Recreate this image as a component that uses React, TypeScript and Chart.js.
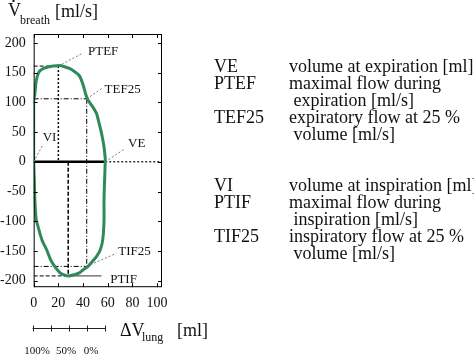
import React, { useEffect, useRef } from "react";
import { Chart, registerables } from "chart.js";

Chart.register(...registerables);

// ---- data ----
const xTicks = [0, 20, 40, 60, 80, 100];
const yTicks = [-200, -150, -100, -50, 0, 50, 100, 150, 200];

const loopX = [0, 0, 0, 1, 2, 4, 7, 11, 16, 21, 25, 29, 33, 37, 40, 42, 44, 48, 51, 53, 55, 57, 58, 58,
  57.5, 57, 57, 56, 54, 51, 47, 44, 40, 37, 33, 28, 24, 21, 17, 14, 10.5, 7, 5, 3, 2, 1, 0.5, 0];
const loopY = [0, 50, 100, 115, 135, 150, 156, 159, 161, 162, 160, 157, 152, 145, 130, 115, 104, 92, 81, 65, 48, 25, 5, 0,
  -30, -64, -100, -131, -148, -159, -169, -176, -182, -187, -190, -192, -190, -186, -176, -166, -148, -133, -120, -105, -97, -65, -30, 0];

const VE = 58;
const VI = 0;
const PTEF = [20, 161];
const TEF25 = [43, 106];
const TIF25 = [43, -176];
const PTIF = [28, -192];

const markerLabels = ["PTEF", "TEF25", "VI", "VE", "TIF25", "PTIF"];

const legendAbbr = ["VE", "PTEF", "TEF25", "VI", "PTIF", "TIF25"];
const legendDesc = [
  ["volume at expiration [ml]"],
  ["maximal flow during", " expiration [ml/s]"],
  ["expiratory flow at 25 %", " volume [ml/s]"],
  ["volume at inspiration [ml]"],
  ["maximal flow during", " inspiration [ml/s]"],
  ["inspiratory flow at 25 %", " volume [ml/s]"],
];

const percentLabels = ["100%", "50%", "0%"];

const SERIF = '"Liberation Serif", "Times New Roman", serif';
const GREEN = "#2e8b57";

const pts = (xs: number[], ys: number[]) => xs.map((x, i) => ({ x, y: ys[i] }));
const seg = (x1: number, y1: number, x2: number, y2: number) => [{ x: x1, y: y1 }, { x: x2, y: y2 }];

const overlay = {
  id: "overlay",
  afterDatasetsDraw(chart: any) {
    const { ctx, chartArea: a, scales } = chart;
    const xs = scales.x, ys = scales.y;
    const px = (v: number) => xs.getPixelForValue(v);
    const py = (v: number) => ys.getPixelForValue(v);
    ctx.save();
    // frame
    ctx.strokeStyle = "#000";
    ctx.lineWidth = 1;
    ctx.setLineDash([]);
    ctx.strokeRect(a.left + 0.5, a.top + 0.5, a.right - a.left - 1, a.bottom - a.top - 1);
    // inward ticks
    ctx.beginPath();
    xTicks.forEach((v) => {
      const x = Math.round(px(v)) + 0.5;
      ctx.moveTo(x, a.bottom); ctx.lineTo(x, a.bottom - 4);
      ctx.moveTo(x, a.top); ctx.lineTo(x, a.top + 4);
    });
    yTicks.forEach((v) => {
      const y = Math.round(py(v)) + 0.5;
      ctx.moveTo(a.left, y); ctx.lineTo(a.left + 4, y);
      ctx.moveTo(a.right, y); ctx.lineTo(a.right - 4, y);
    });
    ctx.stroke();

    // leader lines (data-space anchors -> label positions)
    const leaders: [number, number, number, number][] = [
      [PTEF[0], PTEF[1], 39, 182],
      [TEF25[0], TEF25[1], 55, 123],
      [VI, 0, 7, 27],
      [VE, 0, 74, 22],
      [TIF25[0], TIF25[1], 67, -154],
    ];
    ctx.strokeStyle = "#777";
    ctx.lineWidth = 1;
    ctx.setLineDash([2, 2]);
    leaders.forEach(([x1, y1, x2, y2]) => {
      ctx.beginPath();
      ctx.moveTo(px(x1), py(y1));
      ctx.lineTo(px(x2), py(y2));
      ctx.stroke();
    });
    ctx.setLineDash([]);

    // marker labels
    const labelPos: [number, number][] = [
      [44, 186], [57.5, 122], [7.3, 41], [76.5, 31], [68.5, -151], [62, -198],
    ];
    ctx.fillStyle = "#111";
    ctx.font = `13px ${SERIF}`;
    ctx.textBaseline = "middle";
    ctx.textAlign = "left";
    markerLabels.forEach((t, i) => ctx.fillText(t, px(labelPos[i][0]), py(labelPos[i][1])));

    // y-axis title
    ctx.font = `18px ${SERIF}`;
    ctx.textBaseline = "alphabetic";
    ctx.fillText("V", 8, 16);
    ctx.fillRect(12.5, 0, 2, 2);
    ctx.font = `12px ${SERIF}`;
    ctx.fillText("breath", 20, 24);
    ctx.font = `18px ${SERIF}`;
    ctx.fillText("[ml/s]", 55, 17);

    // x-axis title
    ctx.fillText("\u0394V", 120, 336);
    ctx.font = `12px ${SERIF}`;
    ctx.fillText("lung", 142, 341);
    ctx.font = `18px ${SERIF}`;
    ctx.fillText("[ml]", 177, 336);

    // volume scale bar (0 .. VE)
    const by = 328.5;
    ctx.strokeStyle = "#222";
    ctx.lineWidth = 1;
    ctx.beginPath();
    ctx.moveTo(px(0) - 1, by); ctx.lineTo(px(VE), by);
    for (let k = 0; k <= 4; k++) {
      const x = Math.round(px(0) - 1 + (px(VE) - px(0) + 1) * k / 4) + 0.5;
      ctx.moveTo(x, by - 3); ctx.lineTo(x, by + 3);
    }
    ctx.stroke();
    ctx.font = `11px ${SERIF}`;
    ctx.textAlign = "center";
    ctx.textBaseline = "top";
    const pcx = [37, 66, 91];
    percentLabels.forEach((t, i) => ctx.fillText(t, pcx[i], 346));

    // legend text
    ctx.textAlign = "left";
    ctx.textBaseline = "middle";
    ctx.font = `18px ${SERIF}`;
    const rowStarts = [67, 84, 118, 186, 203, 237];
    legendAbbr.forEach((ab, i) => {
      const y0 = rowStarts[i];
      ctx.fillText(ab, 214, y0);
      legendDesc[i].forEach((d, j) => ctx.fillText(d, 289, y0 + j * 17));
    });
    ctx.restore();
  },
};

export default function App() {
  const ref = useRef<HTMLCanvasElement>(null);
  useEffect(() => {
    if (!ref.current) return;
    const dash = (data: any[], d: number[], w = 1, c = "#000") => ({
      data, showLine: true, borderColor: c, borderWidth: w, borderDash: d, pointRadius: 0, fill: false,
    });
    const chart = new Chart(ref.current, {
      type: "scatter",
      data: {
        datasets: [
          { data: pts(loopX, loopY), showLine: true, borderColor: GREEN, borderWidth: 3, pointRadius: 0, fill: false, tension: 0.2 } as any,
          dash(seg(0, 0, VE, 0), [], 2.5),
          dash(seg(VE, 0, 104, 0), [2, 2], 1.2),
          dash(seg(0, PTEF[1], PTEF[0], PTEF[1]), [4, 2], 1),
          dash(seg(PTEF[0], PTEF[1], PTEF[0], 0), [2, 2], 1.5),
          dash(seg(0, TEF25[1], TEF25[0], TEF25[1]), [5, 2, 1, 2], 1),
          dash(seg(TEF25[0], TEF25[1], TIF25[0], TIF25[1]), [5, 2, 1, 2], 1),
          dash(seg(0, TIF25[1], TIF25[0], TIF25[1]), [5, 2, 1, 2], 1),
          dash(seg(0, PTIF[1], PTIF[0], PTIF[1]), [4, 2], 1),
          dash(seg(PTIF[0], 0, PTIF[0], PTIF[1]), [4, 2], 1.5),
          dash(seg(PTIF[0], PTIF[1], 55, PTIF[1]), [], 1, "#333"),
        ],
      },
      options: {
        animation: false,
        responsive: false,
        maintainAspectRatio: false,
        layout: { padding: { left: -8, top: 34, right: 312, bottom: 34 } },
        plugins: { legend: { display: false }, tooltip: { enabled: false } },
        scales: {
          x: {
            type: "linear", min: 0, max: 104,
            afterBuildTicks: (s: any) => { s.ticks = xTicks.map((v) => ({ value: v })); },
            ticks: { font: { family: SERIF, size: 14 }, color: "#111", padding: 8, autoSkip: false, maxRotation: 0 },
            grid: { display: false, drawTicks: false, tickLength: 0 },
            border: { display: false },
          },
          y: {
            type: "linear", min: -211, max: 215,
            afterBuildTicks: (s: any) => { s.ticks = yTicks.map((v) => ({ value: v })); },
            ticks: { font: { family: SERIF, size: 14 }, color: "#111", padding: 8, autoSkip: false },
            grid: { display: false, drawTicks: false, tickLength: 0 },
            border: { display: false },
          },
        },
      },
      plugins: [overlay],
    } as any);
    return () => chart.destroy();
  }, []);
  return (
    <div style={{ position: "absolute", left: 0, top: 0, width: 474, height: 354, background: "#fff" }}>
      <canvas ref={ref} width={474} height={354} style={{ display: "block" }} />
    </div>
  );
}
